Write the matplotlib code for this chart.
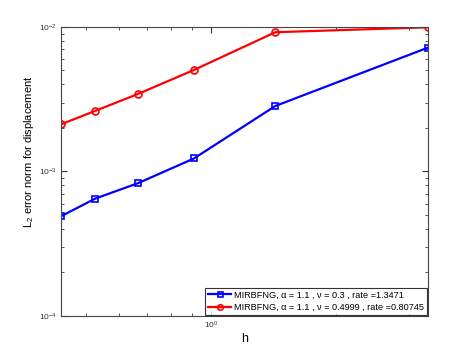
import matplotlib
matplotlib.use('Agg')
import matplotlib.pyplot as plt
from matplotlib.ticker import LogLocator, NullFormatter

plt.rcParams['font.family'] = ['Liberation Sans', 'DejaVu Sans']
plt.rcParams['mathtext.fontset'] = 'custom'
plt.rcParams['mathtext.rm'] = 'Liberation Sans'

h = [10/23, 10/19, 10/15, 10/11, 10/7, 10/3]
err_v03 = [4.9e-4, 6.5e-4, 8.3e-4, 1.23e-3, 2.84e-3, 7.2e-3]
err_v04999 = [2.12e-3, 2.63e-3, 3.44e-3, 5.04e-3, 9.2e-3, 9.95e-3]
labels = ['MIRBFNG, α = 1.1 , ν = 0.3 , rate =1.3471',
          'MIRBFNG, α = 1.1 , ν = 0.4999 , rate =0.80745']

fig = plt.figure(figsize=(4.74, 3.55), dpi=100)
ax = fig.add_axes([0.1287, 0.1099, 0.7743, 0.8141])

ax.loglog(h, err_v03, '-s', color='#0000ff', lw=1.6, ms=4.5, mfc='none', mew=1.2, label=labels[0])
ax.loglog(h, err_v04999, '-o', color='#ff0000', lw=1.6, ms=5, mfc='none', mew=1.2, label=labels[1])

ax.set_xlim(h[0], h[-1])
ax.set_ylim(1e-4, 1e-2)
ax.yaxis.set_minor_locator(LogLocator(base=10, subs=range(2, 10)))
ax.yaxis.set_minor_formatter(NullFormatter())
ax.xaxis.set_minor_formatter(NullFormatter())
ax.tick_params(which='both', direction='in', top=True, right=True, labelsize=6, colors='#333333')
ax.tick_params(which='major', length=4, pad=3)
ax.tick_params(which='minor', length=2.5)
for s in ax.spines.values():
    s.set_color('#444444')
    s.set_linewidth(0.8)

ax.set_xlabel('h', fontsize=9, labelpad=1)
ax.set_ylabel('L$_2$ error norm for displacement', fontsize=8)
ax.yaxis.set_label_coords(-0.068, 0.57)

leg = ax.legend(loc='lower right', fontsize=6.6, frameon=True, fancybox=False,
                edgecolor='black', borderpad=0.3, labelspacing=0.35, handlelength=2.5,
                handletextpad=0.3, markerscale=0.8, borderaxespad=0.15)
leg.get_frame().set_linewidth(0.8)

fig.savefig('out.png', dpi=100)
